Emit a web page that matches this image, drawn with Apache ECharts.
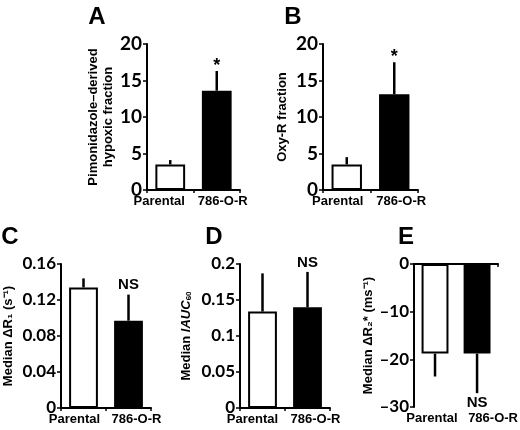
<!DOCTYPE html>
<html>
<head>
<meta charset="utf-8">
<script src="https://cdn.jsdelivr.net/npm/echarts@6/dist/echarts.min.js"></script>
<style>
  html, body { margin: 0; padding: 0; background: #fff; }
  #main { width: 520px; height: 430px; }
</style>
</head>
<body>
<div id="main"></div>
<script>
// groups, shared by every panel
var categories = ['Parental', '786-O-R'];

// A: pimonidazole-derived hypoxic fraction (mean, top of error bar)
var pimoMean = [3.5, 13.6];
var pimoErr = [4.1, 16.3];
// B: Oxy-R fraction
var oxyMean = [3.5, 13.1];
var oxyErr = [4.5, 17.5];
// C: median delta R1 (s-1)
var r1Mean = [0.134, 0.097];
var r1Err = [0.144, 0.126];
// D: median IAUC60
var iaucMean = [0.134, 0.140];
var iaucErr = [0.187, 0.189];
// E: median delta R2* (ms-1), bars hang down from 0
var r2Mean = [-18.8, -18.8];
var r2Err = [-23.6, -27.1];

// significance marks at the end of the 786-O-R error bar
var signif = ['*', '*', 'NS', 'NS', 'NS'];

var chart = echarts.init(document.getElementById('main'));

var tickFont = 'Lato';
var textFont = 'Liberation Sans';

// grid boxes for the five panels
var grids = [
	{ left: 147, top: 44, width: 93, height: 146 },
	{ left: 323, top: 44, width: 95, height: 146 },
	{ left: 60, top: 264, width: 91, height: 144 },
	{ left: 240, top: 264, width: 90, height: 144 },
	{ left: 414, top: 264, width: 88, height: 143 }
];
// how far (px) each category label sits off its band centre in the original
var labelShift = [[-11, 6], [-9, 7], [-9, 8], [-10, 8], [-3, 16]];

function catData(gi) {
	return categories.map(function (c, j) {
		var d = labelShift[gi][j];
		var pad = d < 0 ? [0, -2 * d, 0, 0] : [0, 0, 0, 2 * d];
		return { value: c, textStyle: { padding: pad } };
	});
}

function catAxis(gi, extra) {
	var ax = {
		type: 'category',
		gridIndex: gi,
		data: catData(gi),
		axisLine: { lineStyle: { color: '#000', width: 2 } },
		axisTick: { show: true, length: 3, lineStyle: { color: '#000', width: 1.5 } },
		axisLabel: { color: '#000', fontFamily: textFont, fontWeight: 'bold', fontSize: 13, margin: 5, interval: 0 }
	};
	for (var k in extra) ax[k] = extra[k];
	return ax;
}

function valAxis(gi, min, max, interval, name, gap, fs, extra) {
	var ax = {
		type: 'value',
		gridIndex: gi,
		min: min,
		max: max,
		interval: interval,
		name: name,
		nameLocation: 'middle',
		nameGap: gap,
		nameTextStyle: { color: '#000', fontFamily: textFont, fontWeight: 'bold', fontSize: 13, lineHeight: 15 },
		axisLine: { show: true, onZero: false, lineStyle: { color: '#000', width: 2 } },
		axisTick: { show: true, length: 4, lineStyle: { color: '#000', width: 1.5 } },
		splitLine: { show: false },
		axisLabel: { color: '#000', fontFamily: tickFont, fontWeight: 'bold', fontSize: fs, margin: 5 }
	};
	for (var k in extra) ax[k] = extra[k];
	return ax;
}

var xAxes = [
	catAxis(0),
	catAxis(1),
	catAxis(2),
	catAxis(3),
	// E: line at the top (value 0), labels at the bottom
	catAxis(4, { position: 'top', axisLabel: { show: false }, axisTick: { show: true, inside: true, length: 3, lineStyle: { color: '#000', width: 1.5 } } }),
	catAxis(4, { position: 'bottom', axisLine: { show: false, onZero: false }, axisTick: { show: false } })
];

var yAxes = [
	valAxis(0, 0, 20, 5, 'Pimonidazole–derived\nhypoxic fraction', 31, 19),
	valAxis(1, 0, 20, 5, 'Oxy-R fraction', 33, 19),
	valAxis(2, 0, 0.16, 0.04, 'Median ΔR₁ (s⁻¹)', 45, 17),
	valAxis(3, 0, 0.2, 0.05, '', 47, 17, {
		name: '{n|Median }{i|IAUC}{s|60}',
		nameTextStyle: {
			color: '#000', fontFamily: textFont, fontWeight: 'bold', fontSize: 13,
			rich: {
				n: { fontFamily: textFont, fontWeight: 'bold', fontSize: 13 },
				i: { fontFamily: textFont, fontWeight: 'bold', fontStyle: 'italic', fontSize: 13 },
				s: { fontFamily: textFont, fontWeight: 'bold', fontSize: 8, verticalAlign: 'bottom', lineHeight: 10 }
			}
		}
	}),
	valAxis(4, -30, 0, 10, 'Median ΔR₂* (ms⁻¹)', 37, 17, {
		axisLabel: {
			color: '#000', fontFamily: tickFont, fontWeight: 'bold', fontSize: 17, margin: 5,
			formatter: function (v) { return String(v).replace('-', '–'); }
		}
	})
];

var panels = [
	{ mean: pimoMean, err: pimoErr, x: 0, y: 0 },
	{ mean: oxyMean, err: oxyErr, x: 1, y: 1 },
	{ mean: r1Mean, err: r1Err, x: 2, y: 2 },
	{ mean: iaucMean, err: iaucErr, x: 3, y: 3 },
	{ mean: r2Mean, err: r2Err, x: 4, y: 4 }
];

var series = [];
panels.forEach(function (p, i) {
	series.push({
		type: 'bar',
		xAxisIndex: p.x,
		yAxisIndex: p.y,
		barWidth: '64%',
		data: p.mean.map(function (v, j) {
			return {
				value: v,
				itemStyle: j === 0
					? { color: '#fff', borderColor: '#000', borderWidth: 2 }
					: { color: '#000', borderColor: '#000', borderWidth: 2 }
			};
		})
	});
	// one-sided error bars without caps, plus the significance mark on the second bar
	series.push({
		type: 'custom',
		xAxisIndex: p.x,
		yAxisIndex: p.y,
		z: 5,
		data: p.mean.map(function (v, j) { return [j, v, p.err[j]]; }),
		renderItem: function (params, api) {
			var a = api.coord([api.value(0), api.value(1)]);
			var b = api.coord([api.value(0), api.value(2)]);
			var kids = [{
				type: 'line',
				shape: { x1: a[0], y1: a[1], x2: b[0], y2: b[1] },
				style: { stroke: '#000', lineWidth: 2.5 }
			}];
			if (params.dataIndex === 1) {
				var down = api.value(2) < 0;
				var star = signif[i] === '*';
				kids.push({
					type: 'text',
					x: b[0],
					y: down ? b[1] + 2 : b[1] + (star ? 4 : -2),
					style: {
						text: signif[i],
						fill: '#000',
						font: 'bold ' + (star ? 18 : 15) + 'px "Liberation Sans"',
						textAlign: 'center',
						textVerticalAlign: down ? 'top' : 'bottom'
					}
				});
			}
			return { type: 'group', children: kids };
		}
	});
});

function letter(t, x, y) {
	return {
		type: 'text',
		x: x,
		y: y,
		style: {
			text: t,
			fill: '#000',
			font: 'bold 24px "Liberation Sans"',
			textAlign: 'center',
			textVerticalAlign: 'middle'
		}
	};
}

chart.setOption({
	backgroundColor: '#fff',
	animation: false,
	grid: grids,
	xAxis: xAxes,
	yAxis: yAxes,
	series: series,
	graphic: [
		letter('A', 97, 17),
		letter('B', 293, 17),
		letter('C', 10, 237),
		letter('D', 214, 237),
		letter('E', 406, 237)
	]
});
</script>
</body>
</html>
